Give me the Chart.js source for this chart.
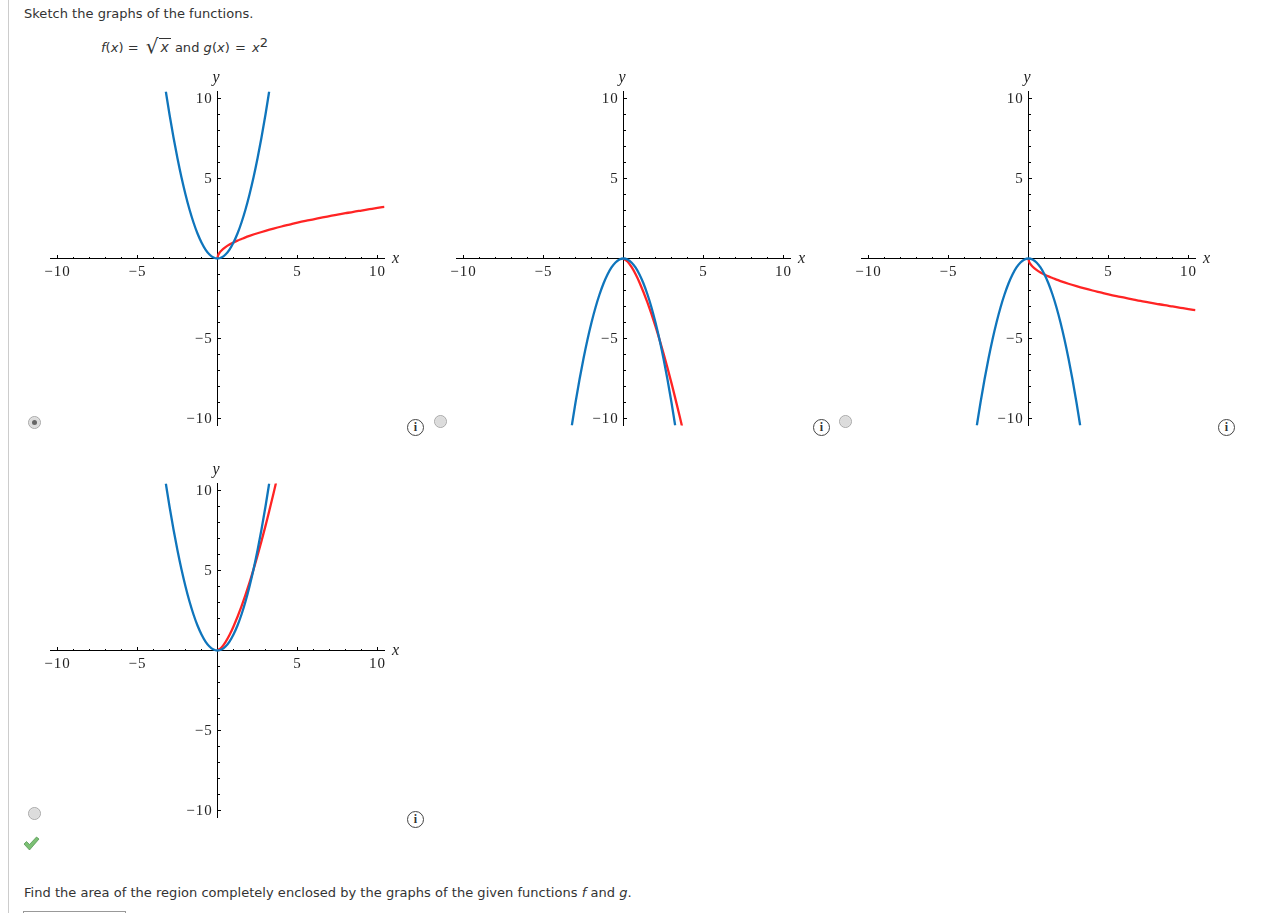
<!DOCTYPE html>
<html>
<head>
<meta charset="utf-8">
<script src="https://cdn.jsdelivr.net/npm/chart.js@4"></script>
<style>
  html, body { margin: 0; padding: 0; background: #fff; overflow: hidden; }
  body { width: 1270px; height: 913px; position: relative; font: 13px "DejaVu Sans", sans-serif; color: #333; letter-spacing: 0.025px; }
  canvas { position: absolute; }
  .txt { position: absolute; white-space: nowrap; line-height: 16px; }
  .fn { font-style: italic; }
  .rail { position: absolute; left: 8px; top: 0; width: 1px; height: 913px; background: #ccc; }
  .radio { position: absolute; width: 11px; height: 11px; border-radius: 50%; background: #dcdcdc; border: 1px solid #aaa; box-shadow: inset 0 0 1px #fff; }
  .radio.on::after { content: ""; position: absolute; left: 3px; top: 3px; width: 5px; height: 5px; border-radius: 50%; background: #666; }
  .info { position: absolute; width: 15px; height: 15px; border: 1px solid #444; border-radius: 50%; text-align: center; font: bold 12px/15px "Liberation Serif", serif; color: #333; }
  .answer { position: absolute; left: 23px; top: 911px; width: 101px; height: 10px; border: 1px solid #999; }
  .root { border-top: 1px solid #333; padding: 0 2px; font-style: italic; font-size: 14px; }
</style>
</head>
<body>
<div class="rail"></div>
<div class="txt" style="left:24px;top:6px">Sketch the graphs of the functions.</div>
<div class="txt" style="left:101px;top:39px"><span class="fn">f</span>(<span class="fn">x</span>) = <span style="font-size:20px;line-height:0;vertical-align:-1px;margin-left:3px">√</span><span class="root">x</span><span style="margin-left:4px">and</span> <span class="fn">g</span>(<span class="fn">x</span>) <span style="margin:0 2px 0 1px">=</span> <span class="fn">x</span><sup style="font-size:13px;line-height:0">2</sup></div>
<div class="txt" style="left:24px;top:885px">Find the area of the region completely enclosed by the graphs of the given functions <span class="fn">f</span> and <span class="fn">g</span>.</div>

<div class="radio on" style="left:28px;top:416px"></div>
<div class="radio" style="left:434px;top:415px"></div>
<div class="radio" style="left:839px;top:415px"></div>
<div class="radio" style="left:28px;top:807px"></div>
<div class="info" style="left:407px;top:419px">i</div>
<div class="info" style="left:813px;top:419px">i</div>
<div class="info" style="left:1218px;top:419px">i</div>
<div class="info" style="left:407px;top:811px">i</div>
<svg style="position:absolute;left:23px;top:836px" width="17" height="15" viewBox="0 0 17 15">
  <path d="M1 8 L3.5 5.5 L6.5 8.5 L13.5 1 L16 3 L6.5 14 Z" fill="#7cc074" stroke="#4b8f4b" stroke-width="0.7"/>
</svg>
<div class="answer"></div>

<canvas id="plot1" width="381" height="381"></canvas>
<canvas id="plot2" width="381" height="381"></canvas>
<canvas id="plot3" width="381" height="381"></canvas>
<canvas id="plot4" width="381" height="381"></canvas>

<script>
// values
const majorTicks = [-10, -5, 5, 10];
const minorTicks = [-10, -9, -8, -7, -6, -5, -4, -3, -2, -1, 1, 2, 3, 4, 5, 6, 7, 8, 9, 10];
const axisLimit = 10.44;

const parabolaX = [-3.23, -3, -2.75, -2.5, -2.25, -2, -1.75, -1.5, -1.25, -1, -0.75, -0.5, -0.25, 0, 0.25, 0.5, 0.75, 1, 1.25, 1.5, 1.75, 2, 2.25, 2.5, 2.75, 3, 3.23];
const parabolaY = [10.44, 9, 7.56, 6.25, 5.06, 4, 3.06, 2.25, 1.56, 1, 0.56, 0.25, 0.06, 0, 0.06, 0.25, 0.56, 1, 1.56, 2.25, 3.06, 4, 5.06, 6.25, 7.56, 9, 10.44];

const rootX = [0, 0.03, 0.1, 0.25, 0.5, 0.75, 1, 1.25, 1.5, 1.75, 2, 2.5, 3, 3.5, 4, 4.5, 5, 5.5, 6, 6.5, 7, 7.5, 8, 8.5, 9, 9.5, 10, 10.44];
const rootY = [0, 0.17, 0.32, 0.5, 0.71, 0.87, 1, 1.12, 1.22, 1.32, 1.41, 1.58, 1.73, 1.87, 2, 2.12, 2.24, 2.35, 2.45, 2.55, 2.65, 2.74, 2.83, 2.92, 3, 3.08, 3.16, 3.23];

const steepX = [0, 0.25, 0.5, 0.75, 1, 1.5, 2, 2.5, 3, 3.5, 3.66];
const steepY = [0, 0.19, 0.53, 0.97, 1.5, 2.76, 4.24, 5.93, 7.79, 9.82, 10.5];

const BLUE = "#0f75bc";
const RED = "#ff2424";
const TICK_FONT = { family: "'Liberation Serif', serif", size: 15 };

function points(xs, ys, sign) {
  return xs.map((x, i) => ({ x: x, y: sign * ys[i] }));
}

function curve(data, color) {
  return {
    data: data,
    borderColor: color,
    borderWidth: 2.3,
    pointRadius: 0,
    fill: false,
    cubicInterpolationMode: "monotone"
  };
}

function tickText(v) {
  return v < 0 ? "\u2212" + Math.abs(v) : String(v);
}

function tickScale(axis, values, across, len, padding, showLabels, showBorder) {
  return {
    type: "linear",
    axis: axis,
    min: -axisLimit,
    max: axisLimit,
    position: across,
    afterBuildTicks: s => { s.ticks = values.map(v => ({ value: v })); },
    border: { display: showBorder, color: "#000", width: 1 },
    grid: { drawOnChartArea: false, drawTicks: true, tickLength: len, tickColor: "#000", tickWidth: 1 },
    ticks: {
      display: showLabels,
      autoSkip: false,
      maxRotation: 0,
      padding: padding,
      labelOffset: axis === "y" ? 1 : 0,
      color: "#222",
      font: TICK_FONT,
      // y labels are right aligned on the axis line itself, the nbsp keeps them off it
      callback: axis === "y" ? v => tickText(v) + "\u00a0" : tickText
    }
  };
}

// draws the x / y names next to the axis ends, and spaces out the tick digits a little
const axisNames = {
  id: "axisNames",
  beforeDraw(chart) {
    chart.ctx.letterSpacing = "1px";
  },
  afterDraw(chart) {
    const ctx = chart.ctx, area = chart.chartArea;
    ctx.save();
    ctx.letterSpacing = "0px";
    ctx.font = "italic 16px 'Liberation Serif', serif";
    ctx.fillStyle = "#222";
    ctx.textAlign = "center";
    ctx.textBaseline = "middle";
    ctx.fillText("x", area.right + 11, chart.scales.y.getPixelForValue(0) + 0.5);
    ctx.fillText("y", chart.scales.x.getPixelForValue(0) - 1.5, area.top - 13.5);
    ctx.restore();
  }
};

function drawPanel(id, originX, originY, sign, redX, redY, redSign) {
  const canvas = document.getElementById(id);
  canvas.style.left = (originX - 190) + "px";
  canvas.style.top = (originY - 190) + "px";
  new Chart(canvas, {
    type: "line",
    data: {
      datasets: [
        curve(points(parabolaX, parabolaY, sign), BLUE),
        curve(points(redX, redY, redSign), RED)
      ]
    },
    options: {
      responsive: false,
      animation: false,
      devicePixelRatio: 1,
      layout: { padding: 23.5 },
      plugins: { legend: { display: false }, tooltip: { enabled: false } },
      scales: {
        x: tickScale("x", majorTicks, { y: 0 }, -4, 9, true, true),
        y: tickScale("y", majorTicks, { x: 0 }, -4, 0, true, true),
        xMinor: tickScale("x", minorTicks, { y: 0 }, -2, 0, false, false),
        yMinor: tickScale("y", minorTicks, { x: 0 }, -2, 0, false, false)
      }
    },
    plugins: [axisNames]
  });
}

drawPanel("plot1", 217, 258, 1, rootX, rootY, 1);
drawPanel("plot2", 623, 258, -1, steepX, steepY, -1);
drawPanel("plot3", 1028, 258, -1, rootX, rootY, -1);
drawPanel("plot4", 217, 650, 1, steepX, steepY, 1);
</script>
</body>
</html>
